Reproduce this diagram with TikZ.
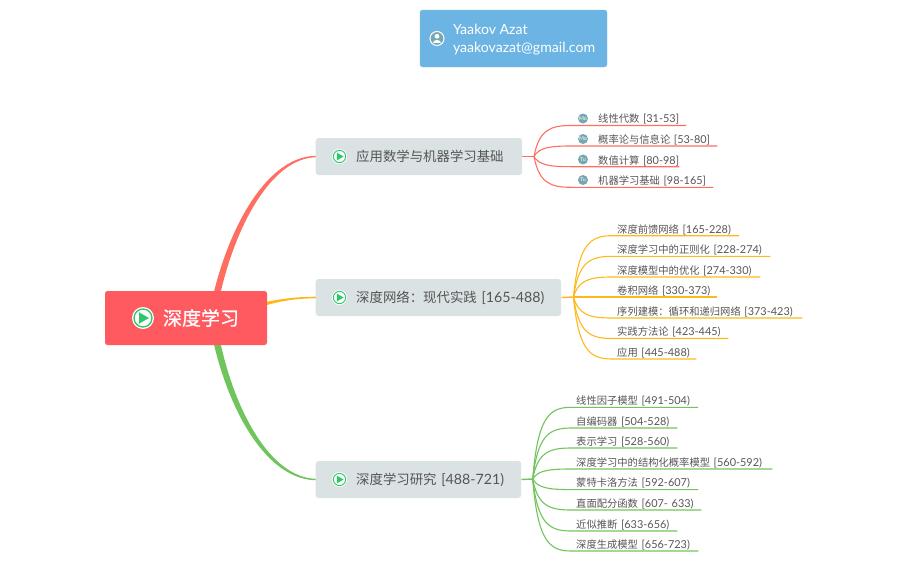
\documentclass[tikz,border=0pt]{standalone}
\usepackage{fontspec}
\setmainfont[Scale=1.06]{Lato}
\newfontfamily\cjk{Noto Sans CJK SC}
\newfontfamily\cjkroot[FakeBold=0.5]{Noto Sans CJK SC}
\usetikzlibrary{calc,backgrounds}
\definecolor{rootred}{HTML}{FF5A60}
\definecolor{topicgrey}{HTML}{DBE2E4}
\definecolor{txt}{HTML}{555555}
\definecolor{blubox}{HTML}{6CB4E4}
\definecolor{bred}{HTML}{FF6F61}
\definecolor{borange}{HTML}{FFB81C}
\definecolor{bgreen}{HTML}{70C45C}
\definecolor{playgreen}{HTML}{2CC868}
\definecolor{teal}{HTML}{76A8B0}
\newcommand{\zh}[1]{{\cjk #1}}
\tikzset{
 rootbox/.style={fill=rootred,rounded corners=2.5pt,text=white,minimum width=162pt,minimum height=54pt,inner sep=0pt,font=\fontsize{19}{22}\selectfont},
 topicbox/.style={fill=topicgrey,rounded corners=3pt,text=txt,minimum height=37pt,inner sep=0pt,anchor=west,align=left,font=\fontsize{13.4}{16}\selectfont},
 mailbox/.style={fill=blubox,draw=blubox!80!white,rounded corners=2.5pt,text=white,minimum width=187pt,minimum height=57pt,inner sep=0pt},
 subitem/.style={anchor=south west,inner sep=0pt,text=txt,text depth=2.5pt,text height=9pt,align=left,font=\fontsize{10.3}{12}\selectfont},
 bline/.style={line width=1.1pt},
 trunk/.style={line width=1.4pt},
 taskicon/.style={circle,fill=teal,text=white,inner sep=0pt,minimum size=10pt,font=\fontsize{5}{5}\selectfont},
}
\newcommand{\playicon}[2]{% centre, radius
 \fill[white] #1 circle (#2);
 \draw[playgreen,line width=#2*0.12] #1 circle (#2*0.82);
 \fill[playgreen] ($#1+(-0.36*#2,-0.52*#2)$) -- ($#1+(0.54*#2,0)$) -- ($#1+(-0.36*#2,0.52*#2)$) -- cycle;
}
\newcommand{\subbranch}[7]{% name, colour, junction, xleft, yline, width, pad+text
 \node[subitem,text width=#6pt] (#1) at (#4,#5) {#7};
 \begin{pgfonlayer}{background}
 \draw[bline,#2] (#3) .. controls ($(#3)!0.85!(#3 |- #1.south west)+(5,0)$) and ($(#3 |- #1.south west)+(16,0)$) .. (#1.south west) -- (#1.south east);
 \end{pgfonlayer}
}
\begin{document}
\begin{tikzpicture}[x=1pt,y=-1pt]
\useasboundingbox (0,0) rectangle (907,562);
% nodes
\node[rootbox,text width=162pt,align=left] (root) at (186,318) {\hspace*{58pt}{\cjkroot 深度学习}};
\playicon{(143,318)}{11}
\node[mailbox] (mail) at (513.5,38.5) {\parbox{187pt}{\vspace*{2.5pt}\hspace*{33pt}\fontsize{13.3}{18.5}\selectfont Yaakov Azat\\[0pt]\hspace*{33pt}yaakovazat@gmail.com}};
\fill[teal] (437,38.5) circle (7);
\draw[white,line width=1pt] (437,38.5) circle (7);
\fill[white] (437,36.3) circle (2.4);
\fill[white] (433,43) .. controls (433,39) and (441,39) .. (441,43) -- cycle;

\node[topicbox,text width=206.5pt] (t1) at (315.5,156.5) {\hspace*{40.5pt}\zh{应用数学与机器学习基础}};
\node[topicbox,text width=245.5pt] (t2) at (315.5,297.5) {\hspace*{40.5pt}\zh{深度网络：现代实践} [165-488)};
\node[topicbox,text width=205.5pt] (t3) at (315.5,479.5) {\hspace*{40.5pt}\zh{深度学习研究} [488-721)};
\playicon{(339.5,156.5)}{7.5}
\playicon{(339.5,297.5)}{7.5}
\playicon{(339.5,479.5)}{7.5}

\coordinate (j1) at (534,156.5);
\coordinate (j2) at (573.5,297);
\coordinate (j3) at (532.7,479);
\coordinate (r1) at (215.5,300);
\coordinate (r2) at (260,305);
\coordinate (r3) at (215.5,336);

\begin{pgfonlayer}{background}
\fill[bred] ($(r1)+(-3.5,0)$) .. controls (229,225) and (268,155.8) .. ($(t1.west)+(1,-0.7)$) -- ($(t1.west)+(1,0.7)$) .. controls (271,157.6) and (234,228) .. ($(r1)+(3.5,0)$) -- cycle;
\fill[borange] ($(r2)+(0,-2)$) .. controls (280,299) and (295,296.8) .. ($(t2.west)+(1,-0.8)$) -- ($(t2.west)+(1,0.8)$) .. controls (295,298.4) and (280,301) .. ($(r2)+(0,2)$) -- cycle;
\fill[bgreen] ($(r3)+(-3.5,0)$) .. controls (229,414) and (268,480.2) .. ($(t3.west)+(1,0.7)$) -- ($(t3.west)+(1,-0.7)$) .. controls (271,478.4) and (234,411) .. ($(r3)+(3.5,0)$) -- cycle;
\draw[trunk,bred] (t1.east) -- (j1);
\draw[trunk,borange] (t2.east) -- (j2);
\draw[trunk,bgreen] (t3.east) -- (j3);
\end{pgfonlayer}

% group 1
\subbranch{a1}{bred}{j1}{571}{125.5}{115}{\hspace*{27pt}\zh{线性代数} [31-53]}
\subbranch{a2}{bred}{j1}{571}{146}{146}{\hspace*{27pt}\zh{概率论与信息论} [53-80]}
\subbranch{a3}{bred}{j1}{571}{166.7}{108}{\hspace*{27pt}\zh{数值计算} [80-98]}
\subbranch{a4}{bred}{j1}{571}{187.3}{142}{\hspace*{27pt}\zh{机器学习基础} [98-165]}
\node[taskicon] (m1) at (583,118.5) {Mo};
\node[taskicon] (m2) at (583,139) {Mo};
\node[taskicon] (m3) at (583,159.5) {Tu};
\node[taskicon] (m4) at (583,180) {Tu};

% group 2
\subbranch{b1}{borange}{j2}{612}{235.7}{126.7}{\hspace*{5pt}\zh{深度前馈网络} [165-228)}
\subbranch{b2}{borange}{j2}{612}{256.3}{158}{\hspace*{5pt}\zh{深度学习中的正则化} [228-274)}
\subbranch{b3}{borange}{j2}{612}{277}{148}{\hspace*{5pt}\zh{深度模型中的优化} [274-330)}
\subbranch{b4}{borange}{j2}{612}{297}{105}{\hspace*{5pt}\zh{卷积网络} [330-373)}
\subbranch{b5}{borange}{j2}{612}{318}{190}{\hspace*{5pt}\zh{序列建模：循环和递归网络} [373-423)}
\subbranch{b6}{borange}{j2}{612}{338.5}{116}{\hspace*{5pt}\zh{实践方法论} [423-445)}
\subbranch{b7}{borange}{j2}{612}{359}{84}{\hspace*{5pt}\zh{应用} [445-488)}

% group 3
\subbranch{c1}{bgreen}{j3}{571}{407.3}{126.7}{\hspace*{5pt}\zh{线性因子模型} [491-504)}
\subbranch{c2}{bgreen}{j3}{571}{428}{106}{\hspace*{5pt}\zh{自编码器} [504-528)}
\subbranch{c3}{bgreen}{j3}{571}{448}{106}{\hspace*{5pt}\zh{表示学习} [528-560)}
\subbranch{c4}{bgreen}{j3}{571}{469}{201}{\hspace*{5pt}\zh{深度学习中的结构化概率模型} [560-592)}
\subbranch{c5}{bgreen}{j3}{571}{489.6}{127}{\hspace*{5pt}\zh{蒙特卡洛方法} [592-607)}
\subbranch{c6}{bgreen}{j3}{571}{510}{130}{\hspace*{5pt}\zh{直面配分函数} [607- 633)}
\subbranch{c7}{bgreen}{j3}{571}{531}{106}{\hspace*{5pt}\zh{近似推断} [633-656)}
\subbranch{c8}{bgreen}{j3}{571}{551}{127}{\hspace*{5pt}\zh{深度生成模型} [656-723)}
\end{tikzpicture}
\end{document}
